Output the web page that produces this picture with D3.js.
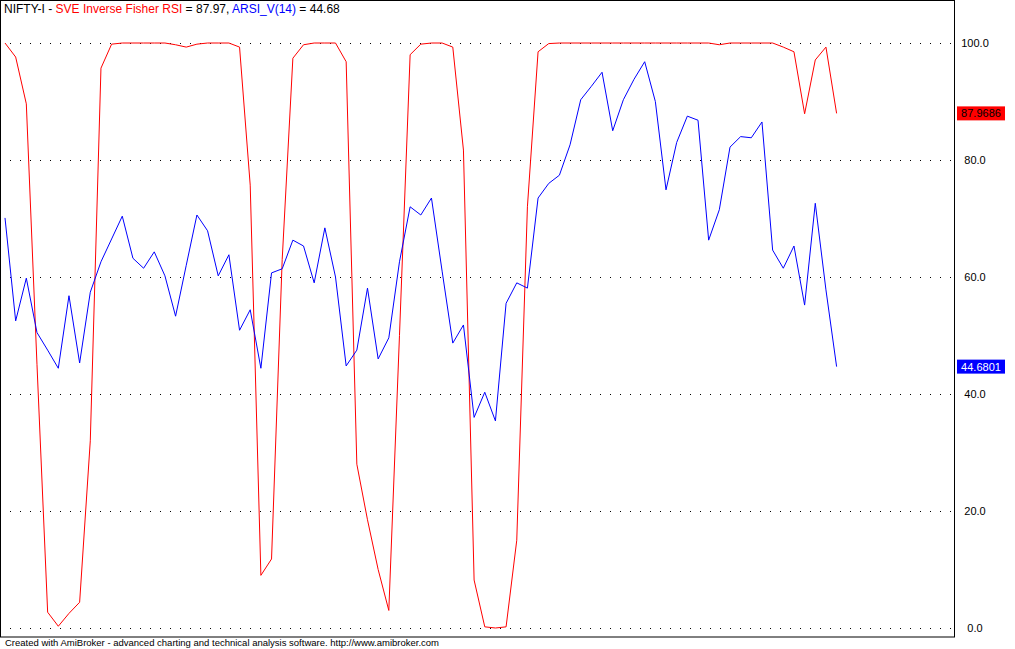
<!DOCTYPE html>
<html>
<head>
<meta charset="utf-8">
<script src="https://cdn.jsdelivr.net/npm/d3@7"></script>
<style>
  body { margin: 0; background: #fff; }
  text { font-family: "Liberation Sans", Arial, sans-serif; }
</style>
</head>
<body>
<script>
var fisher = [100, 97.6, 89.6, 45, 2.7, 0.3, 2.5, 4.4, 32, 95.7, 99.8, 100, 100, 100, 100, 100, 99.7, 99.3, 99.8, 100,
  100, 100, 99.3, 75.7, 9, 11.8, 63, 97.4, 99.7, 100, 100, 100, 96.8, 28, 18.5, 10, 3, 50, 98, 99.8,
  100, 100, 99.3, 81.7, 8.2, 0.2, 0, 0.2, 15, 72, 98.5, 99.9, 100, 100, 100, 100, 100, 100, 100, 100,
  100, 100, 100, 100, 100, 100, 100, 99.7, 100, 100, 100, 100, 100, 99.3, 98.5, 87.9, 97.1, 99.3, 87.9686];
var arsi = [70.1, 52.5, 59.8, 50.5, 47.5, 44.4, 56.8, 45.3, 57.4, 62.6, 66.5, 70.4, 63.2, 61.5, 64.3, 60.2, 53.3, 62, 70.6, 67.9,
  60.2, 63.8, 50.9, 54.4, 44.4, 60.7, 61.4, 66.3, 65.3, 59, 68.4, 60, 44.8, 47.5, 58.1, 46, 49.6, 62.6, 72, 70.6,
  73.5, 61, 48.7, 51.8, 36, 40.3, 35.4, 55.5, 59, 58.1, 73.5, 76, 77.4, 82.6, 90.3, 92.6, 95, 85, 90.3, 93.8,
  96.8, 90, 74.9, 83, 87.5, 86.8, 66.3, 71.5, 82.2, 84, 83.8, 86.5, 64.6, 61.5, 65.3, 55.2, 72.6, 57.8, 44.6801];
var yTicks = [0, 20, 40, 60, 80, 100];

var w = 1015, h = 649;
var svg = d3.select("body").append("svg").attr("width", w).attr("height", h);

var x = d3.scaleLinear().domain([0, fisher.length - 1]).range([5, 836.6]);
var y = d3.scaleLinear().domain([0, 100]).range([628, 43]);

// frame
svg.append("rect").attr("x", 0.5).attr("y", 0.5).attr("width", 954).attr("height", 636.5)
  .attr("fill", "none").attr("stroke", "#000");

// dotted grid
svg.selectAll("line.grid").data(yTicks).enter().append("line")
  .attr("x1", 10).attr("x2", 952)
  .attr("y1", function(d) { return Math.round(y(d)) + 0.5; })
  .attr("y2", function(d) { return Math.round(y(d)) + 0.5; })
  .attr("stroke", "#000").attr("stroke-dasharray", "1,9");

svg.selectAll("text.tick").data(yTicks).enter().append("text")
  .attr("x", 975).attr("y", function(d) { return y(d) + 4; })
  .attr("text-anchor", "middle").attr("font-size", "11px")
  .text(function(d) { return d.toFixed(1); });

var line = d3.line().x(function(d, i) { return x(i); }).y(function(d) { return y(d); });

svg.append("path").datum(fisher).attr("d", line).attr("fill", "none").attr("stroke", "#ff0000").attr("stroke-width", 1);
svg.append("path").datum(arsi).attr("d", line).attr("fill", "none").attr("stroke", "#0000ff").attr("stroke-width", 1);

// last value boxes
function valueBox(v, fill, txt) {
  svg.append("rect").attr("x", 957).attr("y", y(v) - 7).attr("width", 48).attr("height", 14).attr("fill", fill);
  svg.append("text").attr("x", 981).attr("y", y(v) + 4).attr("text-anchor", "middle")
    .attr("font-size", "11px").attr("fill", txt).text(v.toFixed(4));
}
valueBox(fisher[fisher.length - 1], "#ff0000", "#000");
valueBox(arsi[arsi.length - 1], "#0000ff", "#fff");

// title
var t = svg.append("text").attr("x", 4).attr("y", 13).attr("font-size", "12px");
t.append("tspan").attr("fill", "#000").text("NIFTY-I - ");
t.append("tspan").attr("fill", "#ff0000").text("SVE Inverse Fisher RSI");
t.append("tspan").attr("fill", "#000").text(" = 87.97, ");
t.append("tspan").attr("fill", "#0000ff").text("ARSI_V(14)");
t.append("tspan").attr("fill", "#000").text(" = 44.68");

svg.append("text").attr("x", 5).attr("y", 646).attr("font-size", "9.5px")
  .text("Created with AmiBroker - advanced charting and technical analysis software. http://www.amibroker.com");
</script>
</body>
</html>
